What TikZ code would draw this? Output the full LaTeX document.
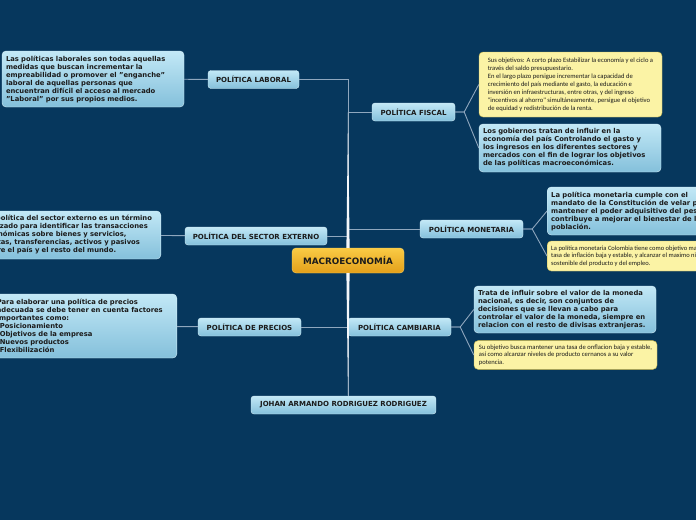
\documentclass[tikz,border=0pt]{standalone}
\usepackage{fontspec}
\setmainfont{DejaVu Sans}
\newfontfamily\memofont{Carlito}
\definecolor{bgnavy}{HTML}{06375D}
\definecolor{linkgray}{HTML}{8FA7BE}
\definecolor{trunkwhite}{HTML}{F4F7FA}
\definecolor{skytop}{HTML}{C2E8F6}
\definecolor{skybot}{HTML}{84C0DB}
\definecolor{skyline}{HTML}{D3EEF8}
\definecolor{memofill}{HTML}{FBF3A5}
\definecolor{memoline}{HTML}{CDB94E}
\definecolor{coretop}{HTML}{FACB45}
\definecolor{corebot}{HTML}{E3A01A}
\definecolor{coreline}{HTML}{F6D060}
\definecolor{inkdark}{HTML}{1B1B1B}

\begin{document}
\begin{tikzpicture}[x=1pt, y=-1pt,
  topic/.style={rounded corners=3pt, draw=skyline, top color=skytop, bottom color=skybot, text=inkdark, font=\fontsize{7}{8}\selectfont\bfseries, minimum height=18pt, inner xsep=2pt, inner ysep=0pt},
  note/.style={rounded corners=4pt, draw=skyline, top color=skytop, bottom color=skybot, text=inkdark, font=\fontsize{6.8}{8}\selectfont\bfseries, align=left, inner sep=4pt},
  memo/.style={rounded corners=4pt, draw=memoline, fill=memofill, text=inkdark, font=\memofont\fontsize{6.6}{8}\selectfont, align=left, inner sep=4pt},
  core/.style={rounded corners=4pt, draw=coreline, top color=coretop, bottom color=corebot, text=inkdark, font=\fontsize{8.8}{10}\selectfont\bfseries, minimum width=112pt, minimum height=25pt},
  link/.style={draw=linkgray, line width=0.9pt}
]
  \fill[bgnavy] (0,0) rectangle (696,520);
  \useasboundingbox (0,0) rectangle (696,520);
  \clip (0,0) rectangle (696,520);

  \node[core] (macro) at (348,260.5) {MACROECONOMÍA};

  \node[topic, minimum width=91pt] (laboral) at (253.5,79.5) {POLÍTICA LABORAL};
  \node[topic, minimum width=83pt] (fiscal) at (413.5,112) {POLÍTICA FISCAL};
  \node[topic, minimum width=103pt] (monetaria) at (471.5,229) {POLÍTICA MONETARIA};
  \node[topic, minimum width=142pt] (externo) at (256,236) {POLÍTICA DEL SECTOR EXTERNO};
  \node[topic, minimum width=103pt] (precios) at (249.5,327) {POLÍTICA DE PRECIOS};
  \node[topic, minimum width=103pt] (cambiaria) at (399.5,327) {POLÍTICA CAMBIARIA};
  \node[topic, minimum width=185pt] (autor) at (343.5,405) {JOHAN ARMANDO RODRIGUEZ RODRIGUEZ};

  \node[note, text width=174pt, minimum height=56pt] (laboralnote) at (93,79) {Las políticas laborales son todas aquellas\\medidas que buscan incrementar la\\empreabilidad o promover el "enganche"\\laboral de aquellas personas que\\encuentran difícil el acceso al mercado\\"Laboral" por sus propios medios.};
  \node[memo, minimum width=183pt, minimum height=65pt] (fiscalmemo) at (570.5,84.5) {Sus objetivos: A corto plazo Estabilizar la economía y el ciclo a\\través del saldo presupuestario.\\En el largo plazo persigue incrementar la capacidad de\\crecimiento del país mediante el gasto, la educación e\\inversión en infraestructuras, entre otras, y del ingreso\\"incentivos al ahorro" simultáneamente, persigue el objetivo\\de equidad y redistribución de la renta.};
  \node[note, text width=174pt, minimum height=48pt] (fiscalnote) at (570,148) {Los gobiernos tratan de influir en la\\economía del país Controlando el gasto y\\los ingresos en los diferentes sectores y\\mercados con el fin de lograr los objetivos\\de las políticas macroeconómicas.};
  \node[note, anchor=west, minimum height=48pt] (monetarianote) at (547,211) {La política monetaria cumple con el\\mandato de la Constitución de velar por\\mantener el poder adquisitivo del peso y\\contribuye a mejorar el bienestar de la\\población.};
  \node[memo, anchor=west, minimum height=30pt, font=\memofont\fontsize{6.5}{7.5}\selectfont] (monetariamemo) at (547,256) {La política monetaria Colombia tiene como objetivo mantener una\\tasa de inflación baja y estable, y alcanzar el maximo nivel\\sostenible del producto y del empleo.};
  \node[note, anchor=east, text width=172pt, minimum height=48pt] (externonote) at (161,235) {La política del sector externo es un término\\utilizado para identificar las transacciones\\económicas sobre bienes y servicios,\\rentas, transferencias, activos y pasivos\\entre el país y el resto del mundo.};
  \node[note, anchor=east, text width=176pt, minimum height=64pt] (preciosnote) at (177,326) {Para elaborar una política de precios\\adecuada se debe tener en cuenta factores\\importantes como:\\\hspace*{3pt}Posicionamiento\\\hspace*{3pt}Objetivos de la empresa\\\hspace*{3pt}Nuevos productos\\\hspace*{3pt}Flexibilización};
  \node[note, text width=174pt, minimum height=47pt] (cambiarianote) at (565,309.5) {Trata de influir sobre el valor de la moneda\\nacional, es decir, son conjuntos de\\decisiones que se llevan a cabo para\\controlar el valor de la moneda, siempre en\\relacion con el resto de divisas extranjeras.};
  \node[memo, minimum width=183pt, minimum height=28pt, font=\memofont\fontsize{6.6}{7.5}\selectfont] (cambiariamemo) at (565.5,355) {Su objetivo busca mantener una tasa de onflacion baja y estable,\\así como alcanzar niveles de producto cernanos a su valor\\potencia.};

  \draw[link] (macro) |- (laboral);
  \draw[link] (macro) |- (fiscal);
  \draw[link] (macro) |- (externo);
  \draw[link] (macro) |- (monetaria);
  \draw[link] (macro) |- (precios);
  \draw[link] (macro) |- (cambiaria);
  \draw[link] (macro) -- (macro |- autor.north);
  \fill[trunkwhite] ([xshift=-1.6pt]macro.north) -- ([xshift=1.6pt]macro.north) -- (macro.north |- fiscal) -- cycle;
  \fill[trunkwhite] ([xshift=-1.6pt]macro.south) -- ([xshift=1.6pt]macro.south) -- (macro.south |- autor.north) -- cycle;

  \draw[link] (laboralnote) -- (laboral);
  \draw[link] (externonote) -- (externo);
  \draw[link] (preciosnote) -- (precios);
  \draw[link] (fiscal.east) -- ++(9,0) -- (fiscalmemo.west);
  \draw[link] (fiscal.east) -- ++(9,0) -- (fiscalnote.west);
  \draw[link] (monetaria.east) -- ++(9,0) -- (monetarianote.west);
  \draw[link] (monetaria.east) -- ++(9,0) -- (monetariamemo.west);
  \draw[link] (cambiaria.east) -- ++(9,0) -- (cambiarianote.west);
  \draw[link] (cambiaria.east) -- ++(9,0) -- (cambiariamemo.west);
\end{tikzpicture}
\end{document}
